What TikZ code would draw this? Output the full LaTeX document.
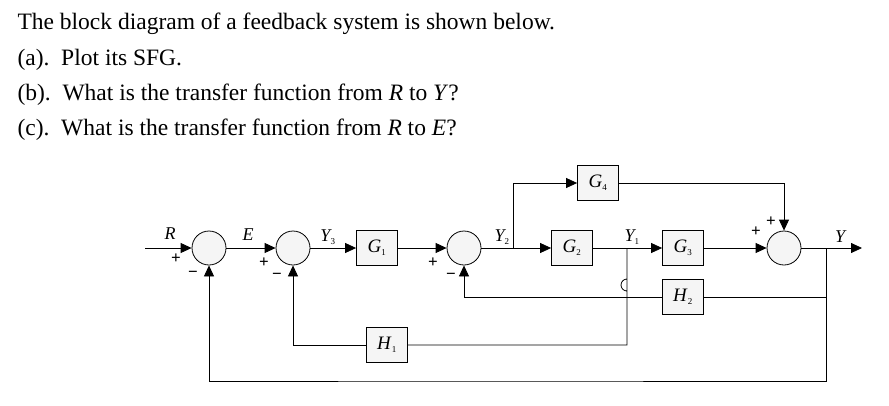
\documentclass[tikz,border=0pt]{standalone}
\usepackage{fontspec}
\setmainfont{Liberation Serif}
\usetikzlibrary{arrows.meta}
\newcommand{\sym}[2]{\textit{#1}\textsubscript{\upshape\fontsize{9}{9}\selectfont #2}}
\begin{document}
\begin{tikzpicture}[x=1pt,y=-1pt,
  sum/.style={circle,draw,thick,fill=gray!8,minimum size=34pt,inner sep=0},
  blk/.style={draw,thick,fill=gray!8,minimum width=41pt,minimum height=35pt,inner sep=0,font=\fontsize{19}{19}\selectfont},
  line/.style={thick},
  arr/.style={thick,-{Triangle[length=11pt,width=10pt]}},
  lab/.style={font=\fontsize{18}{18}\selectfont\itshape},
  sg/.style={font=\fontsize{17}{17}\selectfont\bfseries},
  q/.style={anchor=base west,font=\fontsize{23.5}{23.5}\selectfont}]
\useasboundingbox (0,0) rectangle (889,405);
\node[q] (t0) at (14,29) {The block diagram of a feedback system is shown below.};
\node[q] (t1) at (14,65) {(a).\ \ Plot its SFG.};
\node[q] (t2) at (14,100) {(b).\ \ What is the transfer function from \textit{R} to \textit{Y}?};
\node[q] (t3) at (14,135) {(c).\ \ What is the transfer function from \textit{R} to \textit{E}?};
\node[sum] (s1) at (209,248) {};
\node[sum] (s2) at (293,248) {};
\node[sum] (s3) at (464,248) {};
\node[sum] (s4) at (784,248) {};
\node[blk] (g1) at (377,248) {\sym{G}{1}};
\node[blk] (g2) at (572,248) {\sym{G}{2}};
\node[blk] (g3) at (683,248) {\sym{G}{3}};
\node[blk] (g4) at (598,183) {\sym{G}{4}};
\node[blk] (h2) at (683,297) {\sym{H}{2}};
\node[blk] (h1) at (387,345) {\sym{H}{1}};
\coordinate (in) at (145,248);
\coordinate (out) at (862,248);
\coordinate (b2) at (513,248);
\coordinate (b1) at (627,248);
\coordinate (by) at (826,248);
\draw[arr] (in) -- (s1);
\draw[arr] (s1) -- (s2);
\draw[arr] (s2) -- (g1);
\draw[arr] (g1) -- (s3);
\draw[line] (s3) -- (b2);
\draw[arr] (b2) -- (g2);
\draw[arr] (b2) |- (g4);
\draw[arr] (g4) -| (s4);
\draw[line] (g2) -- (b1);
\draw[arr] (b1) -- (g3);
\draw[arr] (g3) -- (s4);
\draw[arr] (s4) -- (out);
\draw[line] (by) |- (h2);
\draw[arr] (h2.west) -- (464,297) -- (s3);
\draw[line] (b1) -- (627,291) arc[start angle=90,end angle=270,radius=6] -- (627,345) -- (h1);
\draw[arr] (h1) -| (s2);
\draw[arr] (by) |- (464,381) -| (s1);
\node[lab] (lr) at (170,234) {R};
\node[lab] (le) at (248,235) {E};
\node[lab] (ly3) at (328,237) {\sym{Y}{3}};
\node[lab] (ly2) at (502,237) {\sym{Y}{2}};
\node[lab] (ly1) at (632,237) {\sym{Y}{1}};
\node[lab] (ly) at (840,237) {Y};
\node[sg] (p1) at (176,259) {+};
\node[sg] (m1) at (193,274) {\textminus};
\node[sg] (p2) at (264,263) {+};
\node[sg] (m2) at (277,276) {\textminus};
\node[sg] (p3) at (433,263) {+};
\node[sg] (m3) at (451,276) {\textminus};
\node[sg] (p4) at (756,232) {+};
\node[sg] (p5) at (771,222) {+};
\end{tikzpicture}
\end{document}
